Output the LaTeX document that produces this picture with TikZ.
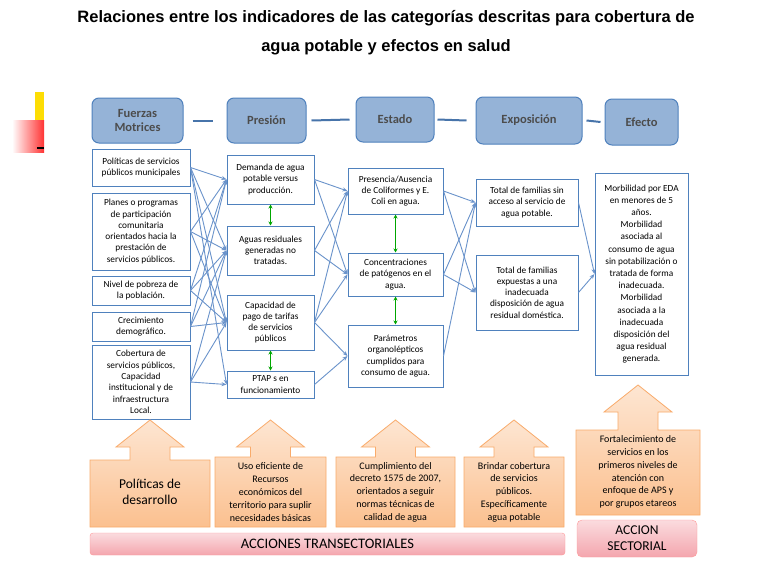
\documentclass[tikz,border=0pt]{standalone}
\usepackage{fontspec}
\setmainfont{Carlito}
\newfontfamily\titlefont{Liberation Sans}
\usetikzlibrary{arrows.meta}
\definecolor{hdr}{HTML}{95B3D7}
\definecolor{hdrb}{HTML}{4F81BD}
\definecolor{arr}{HTML}{6A93CB}
\definecolor{org}{HTML}{FBC08F}
\definecolor{orgb}{HTML}{F79646}
\definecolor{pnk}{HTML}{F4A6AE}
\begin{document}
\begin{tikzpicture}[x=1pt,y=-1pt,
 hdrbox/.style={draw=hdrb,fill=hdr,rounded corners=7pt,line width=1pt,font=\bfseries\fontsize{12.5}{14}\selectfont,text=black!70,align=center,inner sep=0pt},
 bx/.style={draw=hdrb,line width=1pt,fill=white,align=center,inner sep=1pt,font=\fontsize{9.3}{11.3}\selectfont},
 ar/.style={arr,line width=0.9pt,-{Stealth[length=5pt,width=4pt]}},
 gr/.style={green!65!black,line width=1.2pt,{Stealth[length=4pt,width=4pt]}-{Stealth[length=4pt,width=4pt]}},
 hdash/.style={hdrb!90!black,line width=2pt},
 otext/.style={align=center,font=\fontsize{10}{12.8}\selectfont,inner sep=0pt}]
\useasboundingbox (0,0) rectangle (768,576);
\fill[white] (0,0) rectangle (768,576);
% title
\node[font=\titlefont\bfseries\fontsize{16.5}{18}\selectfont] (t1) at (386,18) {Relaciones entre los indicadores de las categorías descritas para cobertura de};
\node[font=\titlefont\bfseries\fontsize{16.5}{18}\selectfont] (t2) at (386,47) {agua potable y efectos en salud};
% decoration
\fill[yellow!80!orange] (35,92) rectangle (44,120);
\shade[left color=white,right color=red!80] (12,120) rectangle (44,152);
\fill[black] (37,147) rectangle (44,149);
% headers
\node[hdrbox,minimum width=91pt,minimum height=45pt] (h1) at (137.5,120.5) {Fuerzas\\Motrices};
\node[hdrbox,minimum width=79pt,minimum height=45pt] (h2) at (266.5,120.5) {Presión};
\node[hdrbox,minimum width=78pt,minimum height=45pt] (h3) at (395,119.5) {Estado};
\node[hdrbox,minimum width=106pt,minimum height=47pt] (h4) at (529,120.5) {Exposición};
\node[hdrbox,minimum width=73pt,minimum height=46pt] (h5) at (641.5,122) {Efecto};
\draw[hdash] ([xshift=9pt]h1.east) -- ([xshift=-14pt]h2.west);
\draw[hdash] ([xshift=5pt]h2.east) -- ([xshift=-6pt]h3.west);
\draw[hdash] ([xshift=3pt]h3.east) -- ([xshift=-9pt]h4.west);
\draw[hdash] ([xshift=4pt]h4.east) -- ([xshift=-4pt]h5.west);
% left column
\node[bx,minimum width=98pt,minimum height=37pt] (L1) at (141,167.5) {Políticas de servicios\\públicos municipales};
\node[bx,minimum width=98pt,minimum height=77pt] (L2) at (141,231.5) {Planes o programas\\de participación\\comunitaria\\orientados hacia la\\prestación de\\servicios públicos.};
\node[bx,minimum width=98pt,minimum height=29pt] (L3) at (141,290.5) {Nivel de pobreza de\\la población.};
\node[bx,minimum width=98pt,minimum height=29pt] (L4) at (141,326.5) {Crecimiento\\demográfico.};
\node[bx,minimum width=98pt,minimum height=74pt] (L5) at (141,382) {Cobertura de\\servicios públicos,\\Capacidad\\institucional y de\\infraestructura\\Local.};
% presion
\node[bx,minimum width=87pt,minimum height=49pt] (P1) at (270.5,179.5) {Demanda de agua\\potable versus\\producción.};
\node[bx,minimum width=87pt,minimum height=49pt] (P2) at (270.5,250.5) {Aguas residuales\\generadas no\\tratadas.};
\node[bx,minimum width=87pt,minimum height=55pt] (P3) at (270.5,322.5) {Capacidad de\\pago de tarifas\\de servicios\\públicos};
\node[bx,minimum width=87pt,minimum height=27pt] (P4) at (270.5,384.5) {PTAP s en\\funcionamiento};
% estado
\node[bx,minimum width=95pt,minimum height=46pt] (E1) at (395.5,191) {Presencia/Ausencia\\de Coliformes y E.\\Coli en agua.};
\node[bx,minimum width=95pt,minimum height=43pt] (E2) at (395.5,274.5) {Concentraciones\\de patógenos en el\\agua.};
\node[bx,minimum width=95pt,minimum height=62pt] (E3) at (395.5,356) {Parámetros\\organolépticos\\cumplidos para\\consumo de agua.};
% exposicion
\node[bx,minimum width=102pt,minimum height=47pt] (X1) at (527,202.5) {Total de familias sin\\acceso al servicio de\\agua potable.};
\node[bx,minimum width=102pt,minimum height=75pt] (X2) at (527,292.5) {Total de familias\\expuestas a una\\inadecuada\\disposición de agua\\residual doméstica.};
% efecto
\node[bx,minimum width=93pt,minimum height=202pt,font=\fontsize{9.3}{12.2}\selectfont] (F) at (641.5,274) {Morbilidad por EDA\\en menores de 5\\años.\\Morbilidad\\asociada al\\consumo de agua\\sin potabilización o\\tratada de forma\\inadecuada.\\Morbilidad\\asociada a la\\inadecuada\\disposición del\\agua residual\\generada.};
% blue arrows
\foreach \a/\b in {L1/P1,L1/P2,L1/P3,L1/P4,L2/P1,L2/P2,L2/P3,L3/P1,L3/P2,L3/P3,L4/P1,L4/P2,L4/P3,L5/P2,L5/P3,L5/P4}
  \draw[ar] (\a.east) -- (\b.west);
\foreach \a/\b in {P1/E1,P1/E2,P2/E1,P2/E2,P3/E1,P3/E2,P3/E3,P4/E3}
  \draw[ar] (\a.east) -- (\b.west);
\foreach \a/\b in {E1/X1,E1/X2,E2/X1,E2/X2,E3/X1}
  \draw[ar] (\a.east) -- (\b.west);
\draw[ar] (X1.east) -- (F.west);
\draw[ar] (X2.east) -- (F.west);
% green
\draw[gr] (P1.south) -- (P2.north);
\draw[gr] (P3.south) -- (P4.north);
\draw[gr] (E1.south) -- (E2.north);
\draw[gr] (E2.south) -- (E3.north);
% callouts: x1 x2 ybox ybot ytop
\newcommand\mycallout[5]{%
 \pgfmathsetmacro\cx{(#1+#2)/2}%
 \draw[draw=orgb!80,line width=0.8pt,top color=org!40,bottom color=org]
 (#1,#4) -- (#1,#3) -- (\cx-20,#3) -- (\cx-20,#5+27) -- (\cx-34,#5+27) -- (\cx,#5) -- (\cx+34,#5+27) -- (\cx+20,#5+27) -- (\cx+20,#3) -- (#2,#3) -- (#2,#4) -- cycle;}
\mycallout{90}{210}{460}{527}{420}
\mycallout{215}{326}{457}{527}{420}
\mycallout{336}{455}{457}{527}{420}
\mycallout{464}{564}{457}{527}{420}
\mycallout{576}{700}{430}{515}{385}
\node[otext,font=\fontsize{13.5}{16}\selectfont] (c1) at (150,492) {Políticas de\\desarrollo};
\node[otext] (c2) at (270.5,492) {Uso eficiente de\\Recursos\\económicos del\\territorio para suplir\\necesidades básicas};
\node[otext] (c3) at (395.5,492) {Cumplimiento del\\decreto 1575 de 2007,\\orientados a seguir\\normas técnicas de\\calidad de agua};
\node[otext] (c4) at (514,492) {Brindar cobertura\\de servicios\\públicos.\\Específicamente\\agua potable};
\node[otext] (c5) at (638,472) {Fortalecimiento de\\servicios en los\\primeros niveles de\\atención con\\enfoque de APS y\\por grupos etareos};
% pink bars
\node[draw=red!40,top color=white!60!pnk,bottom color=pnk,rounded corners=3pt,minimum width=475pt,minimum height=22pt,font=\fontsize{14.5}{16}\selectfont,inner sep=0pt] (b1) at (327.5,544) {ACCIONES TRANSECTORIALES};
\node[draw=red!40,top color=white!60!pnk,bottom color=pnk,rounded corners=5pt,minimum width=120pt,minimum height=37pt,font=\fontsize{13.5}{16}\selectfont,align=center,inner sep=0pt] (b2) at (637,538.5) {ACCION\\SECTORIAL};
\end{tikzpicture}
\end{document}
